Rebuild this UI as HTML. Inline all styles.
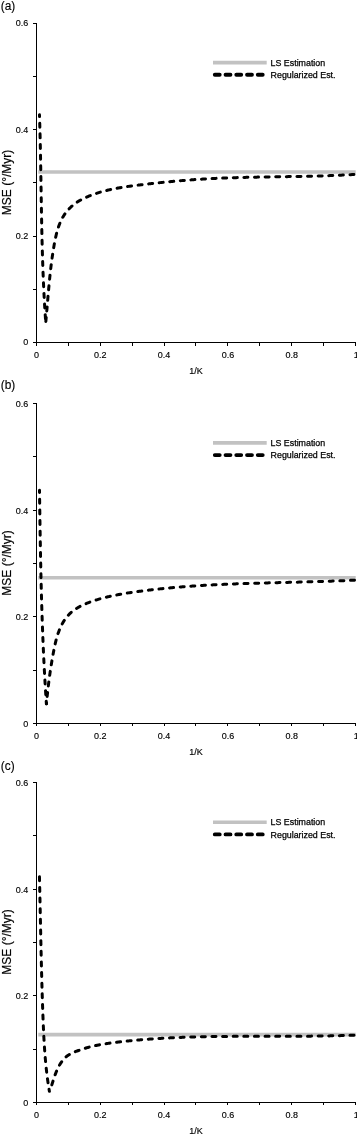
<!DOCTYPE html>
<html><head><meta charset="utf-8"><title>MSE vs 1/K</title>
<style>
html,body{margin:0;padding:0;background:#fff;}
body{width:357px;height:1134px;overflow:hidden;}
svg{display:block;}
text{font-family:'Liberation Sans', Arial, Helvetica, sans-serif;fill:#000;}
.tk{font-size:9px;stroke:#000;stroke-width:0.15px;}
.tn{font-size:9.8px;stroke:#000;stroke-width:0.15px;}
.lg{font-size:8.85px;stroke:#000;stroke-width:0.25px;}
.yt{font-size:12px;stroke:#000;stroke-width:0.2px;}
.pl{font-size:13.5px;stroke:#000;stroke-width:0.15px;}
</style></head>
<body>
<svg width="357" height="1134" viewBox="0 0 357 1134">
<rect width="357" height="1134" fill="#fff"/>
<path d="M36.5,23 V342.5 M36.0,342.5 H356" stroke="#000" stroke-width="1" fill="none" shape-rendering="crispEdges"/>
<path d="M33,342.5 H36 M33,289.5 H36 M33,236.5 H36 M33,182.5 H36 M33,129.5 H36 M33,76.5 H36 M33,23.5 H36 M36.5,343 V346 M68.5,343 V346 M100.5,343 V346 M132.5,343 V346 M164.5,343 V346 M195.5,343 V346 M227.5,343 V346 M259.5,343 V346 M291.5,343 V346 M323.5,343 V346 M355.5,343 V346" stroke="#000" stroke-width="1" fill="none" shape-rendering="crispEdges"/>
<text transform="translate(28.3,345.3) scale(0.92,1)" text-anchor="end" class="tn">0</text>
<text transform="translate(28.3,239.0) scale(0.92,1)" text-anchor="end" class="tn">0.2</text>
<text transform="translate(28.3,132.6) scale(0.92,1)" text-anchor="end" class="tn">0.4</text>
<text transform="translate(28.3,26.3) scale(0.92,1)" text-anchor="end" class="tn">0.6</text>
<text transform="translate(36.5,358.4) scale(0.92,1)" text-anchor="middle" class="tn">0</text>
<text transform="translate(100.3,358.4) scale(0.92,1)" text-anchor="middle" class="tn">0.2</text>
<text transform="translate(164.1,358.4) scale(0.92,1)" text-anchor="middle" class="tn">0.4</text>
<text transform="translate(227.9,358.4) scale(0.92,1)" text-anchor="middle" class="tn">0.6</text>
<text transform="translate(291.7,358.4) scale(0.92,1)" text-anchor="middle" class="tn">0.8</text>
<text transform="translate(356.2,358.4) scale(0.92,1)" text-anchor="middle" class="tn">1</text>
<text x="196" y="373.5" text-anchor="middle" class="tk">1/K</text>
<text transform="translate(11.2,182.4) rotate(-90)" text-anchor="middle" class="yt">MSE (°/Myr)</text>
<text transform="translate(0.8,9.9) scale(0.88,1)" class="pl">(a)</text>
<path d="M213,62.6 H266.7" stroke="#c2c2c2" stroke-width="3.6" fill="none"/>
<path d="M214.8,74.8 H264" stroke="#000" stroke-width="3.9" stroke-linecap="round" stroke-dasharray="4.9 5.85" fill="none"/>
<text x="270.6" y="65.7" class="lg">LS Estimation</text>
<text x="270.6" y="78.0" class="lg">Regularized Est.</text>
<path d="M38.3,172.0 H355.7" stroke="#c2c2c2" stroke-width="3.6" fill="none"/>
<path d="M39.48,114.80 L39.50,115.63 L39.53,116.46 L39.56,117.29 L39.58,118.12 L39.61,118.95 L39.64,119.78 L39.66,120.61 L39.69,121.44 L39.71,122.27 L39.74,123.10 L39.76,123.93 L39.78,124.76 L39.81,125.59 L39.83,126.42 L39.85,127.25 L39.88,128.08 L39.90,128.91 L39.92,129.74 L39.94,130.57 L39.97,131.40 L39.99,132.23 L40.01,133.06 L40.03,133.88 L40.05,134.71 L40.07,135.54 L40.09,136.37 L40.11,137.20 L40.13,138.03 L40.15,138.86 L40.17,139.69 L40.19,140.52 L40.21,141.35 L40.23,142.18 L40.25,143.01 L40.27,143.84 L40.28,144.67 L40.30,145.50 L40.32,146.33 L40.34,147.16 L40.35,147.99 L40.37,148.82 L40.39,149.65 L40.41,150.48 L40.42,151.31 L40.44,152.14 L40.46,152.97 L40.47,153.80 L40.49,154.63 L40.51,155.46 L40.52,156.29 L40.54,157.12 L40.55,157.95 L40.57,158.78 L40.58,159.61 L40.60,160.44 L40.62,161.27 L40.63,162.10 L40.65,162.93 L40.66,163.76 L40.68,164.59 L40.69,165.43 L40.70,166.26 L40.72,167.09 L40.73,167.92 L40.75,168.75 L40.76,169.58 L40.78,170.41 L40.79,171.24 L40.80,172.07 L40.82,172.90 L40.83,173.73 L40.85,174.56 L40.86,175.39 L40.87,176.22 L40.89,177.05 L40.90,177.88 L40.91,178.71 L40.93,179.54 L40.94,180.37 L40.95,181.20 L40.97,182.03 L40.98,182.86 L40.99,183.69 L41.01,184.52 L41.02,185.35 L41.03,186.18 L41.05,187.01 L41.06,187.84 L41.07,188.67 L41.09,189.50 L41.10,190.33 L41.11,191.16 L41.13,191.99 L41.14,192.82 L41.15,193.65 L41.17,194.48 L41.18,195.31 L41.19,196.14 L41.21,196.97 L41.22,197.80 L41.24,198.63 L41.25,199.46 L41.26,200.29 L41.28,201.12 L41.29,201.96 L41.30,202.79 L41.32,203.62 L41.33,204.45 L41.35,205.28 L41.36,206.11 L41.37,206.94 L41.39,207.77 L41.40,208.60 L41.42,209.43 L41.43,210.26 L41.45,211.09 L41.46,211.92 L41.48,212.75 L41.49,213.58 L41.51,214.41 L41.52,215.24 L41.54,216.07 L41.55,216.90 L41.57,217.73 L41.58,218.56 L41.60,219.39 L41.61,220.22 L41.63,221.05 L41.65,221.88 L41.66,222.71 L41.68,223.54 L41.70,224.37 L41.71,225.20 L41.73,226.03 L41.75,226.86 L41.76,227.69 L41.78,228.52 L41.80,229.35 L41.82,230.18 L41.83,231.01 L41.85,231.84 L41.87,232.67 L41.89,233.50 L41.91,234.33 L41.93,235.16 L41.95,235.99 L41.97,236.82 L41.98,237.65 L42.00,238.48 L42.02,239.31 L42.04,240.14 L42.07,240.97 L42.09,241.80 L42.11,242.63 L42.13,243.46 L42.15,244.29 L42.17,245.12 L42.19,245.95 L42.21,246.78 L42.24,247.61 L42.26,248.44 L42.28,249.27 L42.31,250.10 L42.33,250.93 L42.35,251.76 L42.38,252.59 L42.40,253.42 L42.43,254.25 L42.45,255.08 L42.48,255.91 L42.50,256.74 L42.53,257.57 L42.55,258.40 L42.58,259.23 L42.61,260.06 L42.63,260.89 L42.66,261.72 L42.69,262.55 L42.71,263.38 L42.74,264.21 L42.77,265.04 L42.80,265.87 L42.83,266.70 L42.86,267.53 L42.89,268.35 L42.92,269.18 L42.95,270.01 L42.98,270.84 L43.01,271.67 L43.04,272.50 L43.07,273.33 L43.11,274.16 L43.14,274.99 L43.17,275.82 L43.21,276.65 L43.24,277.48 L43.27,278.31 L43.31,279.14 L43.34,279.97 L43.38,280.80 L43.42,281.63 L43.45,282.46 L43.49,283.28 L43.53,284.11 L43.56,284.94 L43.60,285.77 L43.64,286.60 L43.68,287.43 L43.72,288.26 L43.76,289.09 L43.80,289.92 L43.84,290.75 L43.88,291.58 L43.92,292.41 L43.96,293.23 L44.00,294.06 L44.05,294.89 L44.09,295.72 L44.13,296.55 L44.18,297.38 L44.22,298.21 L44.27,299.04 L44.31,299.87 L44.36,300.69 L44.40,301.52 L44.45,302.35 L44.50,303.18 L44.55,304.01 L44.60,304.84 L44.64,305.67 L44.69,306.50 L44.74,307.32 L44.79,308.15 L44.85,308.98 L44.90,309.81 L44.95,310.64 L45.00,311.47 L45.05,312.30 L45.11,313.12 L45.16,313.95 L45.22,314.78 L45.27,315.61 L45.33,316.44 L45.39,317.27 L45.44,318.10 L45.50,318.92 L45.56,319.75 L45.62,320.58 L45.68,321.41" stroke="#000" stroke-width="3" stroke-linecap="round" stroke-linejoin="round" fill="none" stroke-dasharray="4.0 6.640" stroke-dashoffset="2.2"/>
<path d="M45.84,321.47 L45.91,320.64 L45.99,319.81 L46.07,318.98 L46.14,318.15 L46.22,317.32 L46.29,316.50 L46.37,315.67 L46.44,314.84 L46.51,314.02 L46.59,313.19 L46.66,312.37 L46.73,311.55 L46.80,310.72 L46.87,309.90 L46.94,309.08 L47.01,308.26 L47.08,307.44 L47.15,306.62 L47.22,305.80 L47.29,304.98 L47.36,304.16 L47.43,303.35 L47.50,302.53 L47.57,301.71 L47.64,300.90 L47.71,300.08 L47.78,299.27 L47.84,298.45 L47.91,297.64 L47.98,296.82 L48.05,296.01 L48.12,295.20 L48.19,294.38 L48.26,293.57 L48.33,292.76 L48.40,291.95 L48.48,291.13 L48.55,290.32 L48.62,289.51 L48.69,288.70 L48.76,287.89 L48.84,287.08 L48.91,286.27 L48.99,285.46 L49.06,284.65 L49.14,283.84 L49.21,283.03 L49.29,282.22 L49.37,281.41 L49.45,280.60 L49.53,279.79 L49.61,278.98 L49.69,278.17 L49.77,277.36 L49.86,276.55 L49.94,275.74 L50.03,274.93 L50.11,274.12 L50.20,273.31 L50.29,272.50 L50.38,271.69 L50.47,270.88 L50.56,270.07 L50.65,269.26 L50.75,268.45 L50.84,267.64 L50.94,266.83 L51.04,266.02 L51.14,265.21 L51.24,264.40 L51.34,263.59 L51.45,262.78 L51.55,261.96 L51.66,261.15 L51.77,260.34 L51.88,259.52 L51.99,258.71 L52.10,257.90 L52.22,257.08 L52.34,256.27 L52.45,255.45 L52.58,254.64 L52.70,253.82 L52.82,253.01 L52.95,252.19 L53.08,251.37 L53.21,250.55 L53.34,249.73 L53.47,248.92 L53.61,248.10 L53.75,247.28 L53.89,246.46 L54.03,245.63 L54.18,244.81 L54.32,243.99 L54.47,243.17 L54.63,242.34 L54.78,241.52 L54.94,240.70 L55.10,239.88 L55.27,239.06 L55.44,238.24 L55.62,237.42 L55.80,236.60 L55.99,235.79 L56.18,234.98 L56.37,234.17 L56.58,233.36 L56.79,232.55 L57.00,231.75 L57.23,230.95 L57.46,230.16 L57.69,229.36 L57.94,228.57 L58.19,227.79 L58.45,227.01 L58.72,226.24 L59.00,225.46 L59.29,224.70 L59.59,223.94 L59.89,223.18 L60.21,222.43 L60.54,221.69 L60.88,220.95 L61.22,220.22 L61.58,219.50 L61.95,218.78 L62.33,218.07 L62.73,217.37 L63.13,216.67 L63.55,215.98 L63.98,215.30 L64.43,214.63 L64.89,213.97 L65.35,213.31 L65.84,212.67 L66.33,212.03 L66.84,211.40 L67.35,210.78 L67.88,210.17 L68.42,209.57 L68.97,208.97 L69.53,208.39 L70.11,207.82 L70.69,207.25 L71.28,206.70 L71.89,206.16 L72.50,205.62 L73.12,205.10 L73.75,204.59 L74.39,204.09 L75.04,203.60 L75.70,203.11 L76.37,202.65 L77.05,202.19 L77.73,201.74 L78.42,201.30 L79.12,200.88 L79.83,200.47 L80.54,200.06 L81.26,199.67 L81.99,199.29 L82.72,198.91 L83.46,198.55 L84.20,198.19 L84.94,197.84 L85.69,197.50 L86.44,197.17 L87.20,196.84 L87.95,196.52 L88.71,196.21 L89.47,195.90 L90.24,195.60 L91.00,195.30 L91.77,195.01 L92.53,194.72 L93.30,194.44 L94.08,194.17 L94.85,193.90 L95.62,193.64 L96.40,193.38 L97.18,193.13 L97.96,192.88 L98.74,192.63 L99.52,192.40 L100.31,192.16 L101.09,191.93 L101.88,191.71 L102.67,191.49 L103.46,191.28 L104.25,191.07 L105.05,190.86 L105.84,190.66 L106.63,190.46 L107.43,190.27 L108.23,190.08 L109.03,189.89 L109.83,189.71 L110.63,189.53 L111.43,189.36 L112.23,189.19 L113.04,189.02 L113.84,188.85 L114.65,188.69 L115.46,188.54 L116.26,188.38 L117.07,188.23 L117.88,188.08 L118.69,187.94 L119.50,187.79 L120.31,187.65 L121.13,187.52 L121.94,187.38 L122.75,187.25 L123.57,187.12 L124.38,186.99 L125.19,186.87 L126.01,186.75 L126.83,186.63 L127.64,186.51 L128.46,186.39 L129.28,186.28 L130.09,186.16 L130.91,186.05 L131.73,185.94 L132.55,185.83 L133.36,185.73 L134.18,185.62 L135.00,185.52 L135.82,185.41 L136.64,185.31 L137.46,185.21 L138.28,185.11 L139.10,185.01 L139.91,184.91 L140.73,184.81 L141.55,184.72 L142.37,184.62 L143.19,184.52 L144.01,184.43 L144.82,184.33 L145.64,184.24 L146.46,184.14 L147.28,184.05 L148.09,183.95 L148.91,183.86 L149.73,183.77 L150.54,183.68 L151.36,183.59 L152.18,183.50 L152.99,183.41 L153.81,183.32 L154.63,183.23 L155.44,183.14 L156.26,183.05 L157.07,182.96 L157.89,182.88 L158.70,182.79 L159.52,182.70 L160.34,182.62 L161.15,182.54 L161.97,182.45 L162.78,182.37 L163.60,182.29 L164.41,182.20 L165.23,182.12 L166.04,182.04 L166.86,181.96 L167.67,181.88 L168.49,181.80 L169.30,181.72 L170.12,181.65 L170.93,181.57 L171.75,181.49 L172.56,181.42 L173.37,181.34 L174.19,181.27 L175.00,181.19 L175.82,181.12 L176.63,181.05 L177.45,180.97 L178.26,180.90 L179.08,180.83 L179.89,180.76 L180.71,180.69 L181.52,180.62 L182.33,180.55 L183.15,180.49 L183.96,180.42 L184.78,180.35 L185.59,180.29 L186.41,180.22 L187.22,180.16 L188.04,180.10 L188.85,180.04 L189.67,179.97 L190.48,179.91 L191.30,179.85 L192.11,179.79 L192.93,179.73 L193.74,179.68 L194.56,179.62 L195.37,179.56 L196.19,179.51 L197.00,179.45 L197.82,179.40 L198.63,179.34 L199.45,179.29 L200.27,179.24 L201.08,179.19 L201.90,179.14 L202.71,179.09 L203.53,179.04 L204.35,178.99 L205.16,178.94 L205.98,178.89 L206.80,178.85 L207.61,178.80 L208.43,178.76 L209.25,178.72 L210.06,178.67 L210.88,178.63 L211.70,178.59 L212.52,178.55 L213.33,178.51 L214.15,178.47 L214.97,178.43 L215.79,178.39 L216.60,178.35 L217.42,178.32 L218.24,178.28 L219.06,178.25 L219.88,178.21 L220.70,178.18 L221.51,178.14 L222.33,178.11 L223.15,178.08 L223.97,178.04 L224.79,178.01 L225.61,177.98 L226.43,177.95 L227.25,177.92 L228.06,177.89 L228.88,177.86 L229.70,177.84 L230.52,177.81 L231.34,177.78 L232.16,177.75 L232.98,177.73 L233.80,177.70 L234.62,177.68 L235.44,177.65 L236.26,177.63 L237.08,177.60 L237.90,177.58 L238.72,177.56 L239.54,177.54 L240.36,177.51 L241.18,177.49 L242.00,177.47 L242.82,177.45 L243.64,177.43 L244.46,177.41 L245.28,177.39 L246.10,177.37 L246.92,177.35 L247.74,177.33 L248.56,177.31 L249.38,177.29 L250.20,177.27 L251.02,177.26 L251.85,177.24 L252.67,177.22 L253.49,177.21 L254.31,177.19 L255.13,177.17 L255.95,177.16 L256.77,177.14 L257.59,177.12 L258.41,177.11 L259.23,177.09 L260.06,177.08 L260.88,177.06 L261.70,177.05 L262.52,177.03 L263.34,177.02 L264.16,177.01 L264.98,176.99 L265.80,176.98 L266.63,176.96 L267.45,176.95 L268.27,176.94 L269.09,176.92 L269.91,176.91 L270.73,176.90 L271.55,176.88 L272.37,176.87 L273.20,176.86 L274.02,176.85 L274.84,176.83 L275.66,176.82 L276.48,176.81 L277.30,176.79 L278.12,176.78 L278.95,176.77 L279.77,176.76 L280.59,176.74 L281.41,176.73 L282.23,176.72 L283.05,176.70 L283.87,176.69 L284.70,176.68 L285.52,176.66 L286.34,176.65 L287.16,176.64 L287.98,176.62 L288.80,176.61 L289.62,176.60 L290.44,176.58 L291.27,176.57 L292.09,176.56 L292.91,176.54 L293.73,176.53 L294.55,176.51 L295.37,176.50 L296.19,176.48 L297.01,176.47 L297.83,176.45 L298.66,176.44 L299.48,176.42 L300.30,176.41 L301.12,176.39 L301.94,176.37 L302.76,176.36 L303.58,176.34 L304.40,176.32 L305.22,176.31 L306.04,176.29 L306.86,176.27 L307.68,176.25 L308.50,176.24 L309.32,176.22 L310.15,176.20 L310.97,176.18 L311.79,176.16 L312.61,176.14 L313.43,176.12 L314.25,176.10 L315.07,176.08 L315.89,176.05 L316.71,176.03 L317.53,176.01 L318.35,175.99 L319.17,175.96 L319.99,175.94 L320.81,175.92 L321.62,175.89 L322.44,175.87 L323.26,175.84 L324.08,175.82 L324.90,175.79 L325.72,175.76 L326.54,175.74 L327.36,175.71 L328.18,175.68 L329.00,175.65 L329.82,175.62 L330.64,175.59 L331.45,175.56 L332.27,175.53 L333.09,175.50 L333.91,175.47 L334.73,175.43 L335.55,175.40 L336.36,175.37 L337.18,175.33 L338.00,175.30 L338.82,175.26 L339.64,175.22 L340.45,175.19 L341.27,175.15 L342.09,175.11 L342.91,175.07 L343.72,175.03 L344.54,174.99 L345.36,174.95 L346.17,174.91 L346.99,174.87 L347.81,174.82 L348.62,174.78 L349.44,174.73 L350.26,174.69 L351.07,174.64 L351.89,174.60 L352.71,174.55 L353.52,174.50 L354.34,174.45 L355.15,174.40 L355.97,174.35" stroke="#000" stroke-width="3" stroke-linecap="round" stroke-linejoin="round" fill="none" stroke-dasharray="4.0 6.611" stroke-dashoffset="0.0"/>
<path d="M36.5,403 V723.5 M36.0,723.5 H356" stroke="#000" stroke-width="1" fill="none" shape-rendering="crispEdges"/>
<path d="M33,723.5 H36 M33,670.5 H36 M33,616.5 H36 M33,563.5 H36 M33,510.5 H36 M33,456.5 H36 M33,403.5 H36 M36.5,724 V726 M68.5,724 V726 M100.5,724 V726 M132.5,724 V726 M164.5,724 V726 M195.5,724 V726 M227.5,724 V726 M259.5,724 V726 M291.5,724 V726 M323.5,724 V726 M355.5,724 V726" stroke="#000" stroke-width="1" fill="none" shape-rendering="crispEdges"/>
<text transform="translate(28.3,727.0) scale(0.92,1)" text-anchor="end" class="tn">0</text>
<text transform="translate(28.3,620.3) scale(0.92,1)" text-anchor="end" class="tn">0.2</text>
<text transform="translate(28.3,513.7) scale(0.92,1)" text-anchor="end" class="tn">0.4</text>
<text transform="translate(28.3,407.0) scale(0.92,1)" text-anchor="end" class="tn">0.6</text>
<text transform="translate(36.5,739.4) scale(0.92,1)" text-anchor="middle" class="tn">0</text>
<text transform="translate(100.3,739.4) scale(0.92,1)" text-anchor="middle" class="tn">0.2</text>
<text transform="translate(164.1,739.4) scale(0.92,1)" text-anchor="middle" class="tn">0.4</text>
<text transform="translate(227.9,739.4) scale(0.92,1)" text-anchor="middle" class="tn">0.6</text>
<text transform="translate(291.7,739.4) scale(0.92,1)" text-anchor="middle" class="tn">0.8</text>
<text transform="translate(356.2,739.4) scale(0.92,1)" text-anchor="middle" class="tn">1</text>
<text x="196" y="754.5" text-anchor="middle" class="tk">1/K</text>
<text transform="translate(11.2,562.9) rotate(-90)" text-anchor="middle" class="yt">MSE (°/Myr)</text>
<text transform="translate(0.8,389.4) scale(0.88,1)" class="pl">(b)</text>
<path d="M213,442.9 H266.7" stroke="#c2c2c2" stroke-width="3.6" fill="none"/>
<path d="M214.8,455.1 H264" stroke="#000" stroke-width="3.9" stroke-linecap="round" stroke-dasharray="4.9 5.85" fill="none"/>
<text x="270.6" y="446.0" class="lg">LS Estimation</text>
<text x="270.6" y="458.3" class="lg">Regularized Est.</text>
<path d="M38.3,577.8 H355.7" stroke="#c2c2c2" stroke-width="3.6" fill="none"/>
<path d="M39.49,490.30 L39.50,491.16 L39.51,492.02 L39.52,492.87 L39.54,493.73 L39.55,494.59 L39.56,495.45 L39.57,496.31 L39.58,497.16 L39.60,498.02 L39.61,498.88 L39.62,499.74 L39.64,500.59 L39.65,501.45 L39.66,502.31 L39.67,503.17 L39.69,504.03 L39.70,504.88 L39.71,505.74 L39.72,506.60 L39.74,507.46 L39.75,508.32 L39.76,509.17 L39.77,510.03 L39.79,510.89 L39.80,511.75 L39.81,512.60 L39.83,513.46 L39.84,514.32 L39.85,515.18 L39.86,516.04 L39.88,516.89 L39.89,517.75 L39.90,518.61 L39.92,519.47 L39.93,520.33 L39.94,521.18 L39.96,522.04 L39.97,522.90 L39.98,523.76 L40.00,524.62 L40.01,525.47 L40.02,526.33 L40.04,527.19 L40.05,528.05 L40.06,528.91 L40.08,529.76 L40.09,530.62 L40.11,531.48 L40.12,532.34 L40.13,533.19 L40.15,534.05 L40.16,534.91 L40.18,535.77 L40.19,536.63 L40.21,537.48 L40.22,538.34 L40.24,539.20 L40.25,540.06 L40.27,540.92 L40.28,541.77 L40.30,542.63 L40.31,543.49 L40.33,544.35 L40.34,545.21 L40.36,546.06 L40.37,546.92 L40.39,547.78 L40.40,548.64 L40.42,549.50 L40.43,550.35 L40.45,551.21 L40.47,552.07 L40.48,552.93 L40.50,553.79 L40.51,554.64 L40.53,555.50 L40.55,556.36 L40.56,557.22 L40.58,558.08 L40.60,558.93 L40.62,559.79 L40.63,560.65 L40.65,561.51 L40.67,562.37 L40.69,563.22 L40.70,564.08 L40.72,564.94 L40.74,565.80 L40.76,566.65 L40.77,567.51 L40.79,568.37 L40.81,569.23 L40.83,570.09 L40.85,570.94 L40.87,571.80 L40.89,572.66 L40.91,573.52 L40.93,574.38 L40.94,575.23 L40.96,576.09 L40.98,576.95 L41.00,577.81 L41.02,578.67 L41.04,579.52 L41.06,580.38 L41.08,581.24 L41.11,582.10 L41.13,582.95 L41.15,583.81 L41.17,584.67 L41.19,585.53 L41.21,586.39 L41.23,587.24 L41.25,588.10 L41.28,588.96 L41.30,589.82 L41.32,590.67 L41.34,591.53 L41.37,592.39 L41.39,593.25 L41.41,594.11 L41.44,594.96 L41.46,595.82 L41.48,596.68 L41.51,597.54 L41.53,598.39 L41.55,599.25 L41.58,600.11 L41.60,600.97 L41.63,601.83 L41.65,602.68 L41.68,603.54 L41.70,604.40 L41.73,605.26 L41.76,606.11 L41.78,606.97 L41.81,607.83 L41.83,608.69 L41.86,609.54 L41.89,610.40 L41.91,611.26 L41.94,612.12 L41.97,612.97 L42.00,613.83 L42.02,614.69 L42.05,615.55 L42.08,616.40 L42.11,617.26 L42.14,618.12 L42.17,618.98 L42.20,619.83 L42.22,620.69 L42.25,621.55 L42.28,622.41 L42.31,623.26 L42.34,624.12 L42.38,624.98 L42.41,625.84 L42.44,626.69 L42.47,627.55 L42.50,628.41 L42.53,629.27 L42.56,630.12 L42.60,630.98 L42.63,631.84 L42.66,632.70 L42.69,633.55 L42.73,634.41 L42.76,635.27 L42.79,636.13 L42.83,636.98 L42.86,637.84 L42.90,638.70 L42.93,639.55 L42.97,640.41 L43.00,641.27 L43.04,642.13 L43.07,642.98 L43.11,643.84 L43.15,644.70 L43.18,645.56 L43.22,646.41 L43.26,647.27 L43.29,648.13 L43.33,648.98 L43.37,649.84 L43.41,650.70 L43.45,651.56 L43.49,652.41 L43.53,653.27 L43.57,654.13 L43.60,654.98 L43.64,655.84 L43.69,656.70 L43.73,657.55 L43.77,658.41 L43.81,659.27 L43.85,660.13 L43.89,660.98 L43.93,661.84 L43.98,662.70 L44.02,663.55 L44.06,664.41 L44.11,665.27 L44.15,666.12 L44.19,666.98 L44.24,667.84 L44.28,668.69 L44.33,669.55 L44.37,670.41 L44.42,671.26 L44.46,672.12 L44.51,672.98 L44.56,673.83 L44.60,674.69 L44.65,675.55 L44.70,676.40 L44.75,677.26 L44.79,678.12 L44.84,678.97 L44.89,679.83 L44.94,680.69 L44.99,681.54 L45.04,682.40 L45.09,683.26 L45.14,684.11 L45.19,684.97 L45.24,685.83 L45.29,686.68 L45.35,687.54 L45.40,688.39 L45.45,689.25 L45.50,690.11 L45.56,690.96 L45.61,691.82 L45.66,692.68 L45.72,693.53 L45.77,694.39 L45.83,695.25 L45.88,696.10 L45.94,696.96 L46.00,697.81 L46.05,698.67 L46.11,699.53 L46.17,700.38 L46.22,701.24 L46.28,702.09 L46.34,702.95 L46.40,703.81" stroke="#000" stroke-width="3" stroke-linecap="round" stroke-linejoin="round" fill="none" stroke-dasharray="4.0 6.640" stroke-dashoffset="1.7"/>
<path d="M46.44,703.81 L46.51,703.04 L46.59,702.26 L46.66,701.48 L46.73,700.71 L46.81,699.93 L46.88,699.16 L46.96,698.38 L47.04,697.61 L47.12,696.84 L47.19,696.06 L47.27,695.29 L47.36,694.52 L47.44,693.75 L47.52,692.98 L47.60,692.21 L47.69,691.44 L47.77,690.68 L47.86,689.91 L47.94,689.14 L48.03,688.37 L48.12,687.61 L48.21,686.84 L48.30,686.08 L48.39,685.31 L48.49,684.55 L48.58,683.78 L48.67,683.02 L48.77,682.25 L48.87,681.49 L48.96,680.73 L49.06,679.96 L49.16,679.20 L49.26,678.44 L49.37,677.68 L49.47,676.91 L49.57,676.15 L49.68,675.39 L49.79,674.63 L49.89,673.87 L50.00,673.11 L50.11,672.34 L50.22,671.58 L50.33,670.82 L50.45,670.06 L50.56,669.30 L50.68,668.54 L50.80,667.78 L50.91,667.02 L51.03,666.26 L51.15,665.50 L51.28,664.74 L51.40,663.97 L51.52,663.21 L51.65,662.45 L51.78,661.69 L51.91,660.93 L52.04,660.17 L52.17,659.41 L52.30,658.64 L52.43,657.88 L52.57,657.12 L52.70,656.36 L52.84,655.60 L52.98,654.83 L53.12,654.07 L53.26,653.31 L53.41,652.54 L53.55,651.78 L53.70,651.01 L53.85,650.25 L54.00,649.48 L54.15,648.72 L54.30,647.95 L54.46,647.19 L54.62,646.43 L54.78,645.66 L54.95,644.90 L55.12,644.14 L55.29,643.38 L55.47,642.62 L55.65,641.86 L55.84,641.10 L56.03,640.34 L56.23,639.59 L56.43,638.83 L56.64,638.08 L56.85,637.33 L57.07,636.58 L57.30,635.84 L57.53,635.10 L57.77,634.36 L58.02,633.62 L58.27,632.88 L58.54,632.15 L58.81,631.42 L59.08,630.69 L59.37,629.97 L59.66,629.25 L59.97,628.53 L60.28,627.82 L60.60,627.11 L60.93,626.41 L61.27,625.71 L61.62,625.02 L61.97,624.33 L62.34,623.65 L62.72,622.98 L63.10,622.31 L63.50,621.66 L63.90,621.00 L64.32,620.36 L64.74,619.72 L65.18,619.10 L65.62,618.48 L66.08,617.87 L66.54,617.27 L67.02,616.68 L67.51,616.10 L68.01,615.53 L68.52,614.97 L69.04,614.42 L69.57,613.88 L70.11,613.36 L70.67,612.84 L71.23,612.34 L71.81,611.85 L72.40,611.37 L72.99,610.90 L73.60,610.45 L74.22,610.00 L74.84,609.56 L75.47,609.13 L76.11,608.72 L76.76,608.31 L77.42,607.91 L78.08,607.52 L78.75,607.14 L79.43,606.77 L80.11,606.40 L80.80,606.05 L81.49,605.70 L82.19,605.36 L82.89,605.03 L83.60,604.70 L84.31,604.38 L85.02,604.07 L85.74,603.76 L86.46,603.46 L87.19,603.17 L87.91,602.88 L88.64,602.60 L89.36,602.32 L90.09,602.04 L90.82,601.78 L91.56,601.51 L92.29,601.26 L93.03,601.00 L93.76,600.76 L94.50,600.51 L95.24,600.27 L95.98,600.04 L96.72,599.81 L97.46,599.58 L98.21,599.36 L98.95,599.14 L99.70,598.93 L100.44,598.72 L101.19,598.51 L101.94,598.31 L102.69,598.11 L103.44,597.92 L104.19,597.72 L104.94,597.53 L105.69,597.35 L106.45,597.16 L107.20,596.98 L107.95,596.81 L108.71,596.63 L109.46,596.46 L110.22,596.29 L110.97,596.12 L111.73,595.96 L112.49,595.80 L113.25,595.64 L114.00,595.48 L114.76,595.33 L115.52,595.17 L116.28,595.02 L117.04,594.87 L117.80,594.73 L118.56,594.59 L119.32,594.44 L120.08,594.30 L120.84,594.17 L121.60,594.03 L122.36,593.90 L123.12,593.76 L123.89,593.63 L124.65,593.51 L125.41,593.38 L126.17,593.25 L126.94,593.13 L127.70,593.01 L128.47,592.89 L129.23,592.77 L129.99,592.65 L130.76,592.54 L131.52,592.42 L132.29,592.31 L133.05,592.20 L133.82,592.09 L134.58,591.98 L135.35,591.87 L136.11,591.76 L136.88,591.66 L137.65,591.55 L138.41,591.45 L139.18,591.34 L139.94,591.24 L140.71,591.14 L141.48,591.04 L142.24,590.94 L143.01,590.84 L143.78,590.74 L144.54,590.65 L145.31,590.55 L146.08,590.46 L146.84,590.36 L147.61,590.27 L148.38,590.17 L149.14,590.08 L149.91,589.99 L150.68,589.90 L151.45,589.81 L152.21,589.72 L152.98,589.63 L153.75,589.55 L154.52,589.46 L155.28,589.38 L156.05,589.29 L156.82,589.21 L157.59,589.12 L158.35,589.04 L159.12,588.96 L159.89,588.88 L160.66,588.80 L161.43,588.72 L162.20,588.64 L162.96,588.56 L163.73,588.49 L164.50,588.41 L165.27,588.33 L166.04,588.26 L166.81,588.18 L167.58,588.11 L168.35,588.04 L169.11,587.97 L169.88,587.89 L170.65,587.82 L171.42,587.75 L172.19,587.68 L172.96,587.62 L173.73,587.55 L174.50,587.48 L175.27,587.41 L176.04,587.35 L176.81,587.28 L177.58,587.22 L178.35,587.15 L179.12,587.09 L179.89,587.03 L180.66,586.97 L181.43,586.90 L182.20,586.84 L182.97,586.78 L183.74,586.72 L184.51,586.66 L185.28,586.61 L186.05,586.55 L186.82,586.49 L187.59,586.43 L188.36,586.38 L189.13,586.32 L189.90,586.27 L190.67,586.21 L191.44,586.16 L192.21,586.11 L192.98,586.05 L193.75,586.00 L194.53,585.95 L195.30,585.90 L196.07,585.85 L196.84,585.80 L197.61,585.75 L198.38,585.70 L199.15,585.65 L199.92,585.61 L200.69,585.56 L201.47,585.51 L202.24,585.47 L203.01,585.42 L203.78,585.37 L204.55,585.33 L205.32,585.29 L206.09,585.24 L206.87,585.20 L207.64,585.16 L208.41,585.11 L209.18,585.07 L209.95,585.03 L210.72,584.99 L211.50,584.95 L212.27,584.91 L213.04,584.87 L213.81,584.83 L214.58,584.79 L215.36,584.75 L216.13,584.71 L216.90,584.68 L217.67,584.64 L218.45,584.60 L219.22,584.57 L219.99,584.53 L220.76,584.50 L221.53,584.46 L222.31,584.43 L223.08,584.39 L223.85,584.36 L224.62,584.32 L225.40,584.29 L226.17,584.26 L226.94,584.22 L227.71,584.19 L228.49,584.16 L229.26,584.13 L230.03,584.10 L230.80,584.07 L231.58,584.04 L232.35,584.01 L233.12,583.98 L233.90,583.95 L234.67,583.92 L235.44,583.89 L236.21,583.86 L236.99,583.83 L237.76,583.80 L238.53,583.78 L239.31,583.75 L240.08,583.72 L240.85,583.69 L241.63,583.67 L242.40,583.64 L243.17,583.61 L243.94,583.59 L244.72,583.56 L245.49,583.54 L246.26,583.51 L247.04,583.49 L247.81,583.46 L248.58,583.44 L249.36,583.41 L250.13,583.39 L250.90,583.37 L251.68,583.34 L252.45,583.32 L253.22,583.30 L254.00,583.27 L254.77,583.25 L255.54,583.23 L256.32,583.21 L257.09,583.18 L257.86,583.16 L258.64,583.14 L259.41,583.12 L260.18,583.10 L260.96,583.07 L261.73,583.05 L262.50,583.03 L263.28,583.01 L264.05,582.99 L264.82,582.97 L265.60,582.95 L266.37,582.93 L267.14,582.91 L267.92,582.89 L268.69,582.87 L269.46,582.85 L270.24,582.83 L271.01,582.81 L271.78,582.79 L272.56,582.77 L273.33,582.75 L274.10,582.73 L274.88,582.71 L275.65,582.69 L276.42,582.67 L277.20,582.65 L277.97,582.63 L278.74,582.61 L279.52,582.59 L280.29,582.57 L281.06,582.55 L281.84,582.53 L282.61,582.51 L283.38,582.49 L284.16,582.47 L284.93,582.46 L285.70,582.44 L286.48,582.42 L287.25,582.40 L288.02,582.38 L288.80,582.36 L289.57,582.34 L290.34,582.32 L291.12,582.30 L291.89,582.28 L292.66,582.26 L293.44,582.24 L294.21,582.22 L294.98,582.20 L295.76,582.18 L296.53,582.16 L297.30,582.15 L298.08,582.13 L298.85,582.11 L299.62,582.09 L300.39,582.07 L301.17,582.05 L301.94,582.03 L302.71,582.00 L303.49,581.98 L304.26,581.96 L305.03,581.94 L305.81,581.92 L306.58,581.90 L307.35,581.88 L308.12,581.86 L308.90,581.84 L309.67,581.82 L310.44,581.79 L311.22,581.77 L311.99,581.75 L312.76,581.73 L313.53,581.71 L314.31,581.68 L315.08,581.66 L315.85,581.64 L316.62,581.62 L317.40,581.59 L318.17,581.57 L318.94,581.55 L319.71,581.52 L320.49,581.50 L321.26,581.47 L322.03,581.45 L322.80,581.42 L323.58,581.40 L324.35,581.37 L325.12,581.35 L325.89,581.32 L326.67,581.30 L327.44,581.27 L328.21,581.25 L328.98,581.22 L329.75,581.19 L330.53,581.17 L331.30,581.14 L332.07,581.11 L332.84,581.08 L333.61,581.05 L334.39,581.03 L335.16,581.00 L335.93,580.97 L336.70,580.94 L337.47,580.91 L338.24,580.88 L339.02,580.85 L339.79,580.82 L340.56,580.79 L341.33,580.75 L342.10,580.72 L342.87,580.69 L343.64,580.66 L344.42,580.63 L345.19,580.59 L345.96,580.56 L346.73,580.53 L347.50,580.49 L348.27,580.46 L349.04,580.42 L349.81,580.39 L350.58,580.35 L351.35,580.31 L352.13,580.28 L352.90,580.24 L353.67,580.20 L354.44,580.17 L355.21,580.13 L355.98,580.09" stroke="#000" stroke-width="3" stroke-linecap="round" stroke-linejoin="round" fill="none" stroke-dasharray="4.0 6.654" stroke-dashoffset="3.3"/>
<path d="M36.5,782 V1102.5 M36.0,1102.5 H356" stroke="#000" stroke-width="1" fill="none" shape-rendering="crispEdges"/>
<path d="M33,1102.5 H36 M33,1049.5 H36 M33,995.5 H36 M33,942.5 H36 M33,889.5 H36 M33,835.5 H36 M33,782.5 H36 M36.5,1103 V1105 M68.5,1103 V1105 M100.5,1103 V1105 M132.5,1103 V1105 M164.5,1103 V1105 M195.5,1103 V1105 M227.5,1103 V1105 M259.5,1103 V1105 M291.5,1103 V1105 M323.5,1103 V1105 M355.5,1103 V1105" stroke="#000" stroke-width="1" fill="none" shape-rendering="crispEdges"/>
<text transform="translate(28.3,1106.0) scale(0.92,1)" text-anchor="end" class="tn">0</text>
<text transform="translate(28.3,999.3) scale(0.92,1)" text-anchor="end" class="tn">0.2</text>
<text transform="translate(28.3,892.7) scale(0.92,1)" text-anchor="end" class="tn">0.4</text>
<text transform="translate(28.3,786.0) scale(0.92,1)" text-anchor="end" class="tn">0.6</text>
<text transform="translate(36.5,1118.4) scale(0.92,1)" text-anchor="middle" class="tn">0</text>
<text transform="translate(100.3,1118.4) scale(0.92,1)" text-anchor="middle" class="tn">0.2</text>
<text transform="translate(164.1,1118.4) scale(0.92,1)" text-anchor="middle" class="tn">0.4</text>
<text transform="translate(227.9,1118.4) scale(0.92,1)" text-anchor="middle" class="tn">0.6</text>
<text transform="translate(291.7,1118.4) scale(0.92,1)" text-anchor="middle" class="tn">0.8</text>
<text transform="translate(356.2,1118.4) scale(0.92,1)" text-anchor="middle" class="tn">1</text>
<text x="196" y="1133.5" text-anchor="middle" class="tk">1/K</text>
<text transform="translate(11.2,941.9) rotate(-90)" text-anchor="middle" class="yt">MSE (°/Myr)</text>
<text transform="translate(0.8,770.0) scale(0.88,1)" class="pl">(c)</text>
<path d="M213,822.2 H266.7" stroke="#c2c2c2" stroke-width="3.6" fill="none"/>
<path d="M214.8,834.4 H264" stroke="#000" stroke-width="3.9" stroke-linecap="round" stroke-dasharray="4.9 5.85" fill="none"/>
<text x="270.6" y="825.3" class="lg">LS Estimation</text>
<text x="270.6" y="837.6" class="lg">Regularized Est.</text>
<path d="M38.3,1034.6 H355.7" stroke="#c2c2c2" stroke-width="3.6" fill="none"/>
<path d="M39.45,876.81 L39.47,877.67 L39.49,878.53 L39.51,879.39 L39.53,880.26 L39.55,881.12 L39.57,881.98 L39.59,882.84 L39.61,883.71 L39.63,884.57 L39.65,885.43 L39.67,886.29 L39.69,887.15 L39.71,888.02 L39.73,888.88 L39.75,889.74 L39.77,890.60 L39.79,891.47 L39.81,892.33 L39.83,893.19 L39.85,894.05 L39.87,894.92 L39.89,895.78 L39.91,896.64 L39.93,897.50 L39.94,898.37 L39.96,899.23 L39.98,900.09 L40.00,900.95 L40.02,901.82 L40.04,902.68 L40.06,903.54 L40.08,904.40 L40.09,905.27 L40.11,906.13 L40.13,906.99 L40.15,907.85 L40.17,908.72 L40.19,909.58 L40.20,910.44 L40.22,911.30 L40.24,912.17 L40.26,913.03 L40.28,913.89 L40.29,914.76 L40.31,915.62 L40.33,916.48 L40.35,917.34 L40.37,918.21 L40.39,919.07 L40.40,919.93 L40.42,920.79 L40.44,921.66 L40.46,922.52 L40.48,923.38 L40.49,924.25 L40.51,925.11 L40.53,925.97 L40.55,926.83 L40.57,927.70 L40.58,928.56 L40.60,929.42 L40.62,930.28 L40.64,931.15 L40.66,932.01 L40.68,932.87 L40.69,933.74 L40.71,934.60 L40.73,935.46 L40.75,936.32 L40.77,937.19 L40.79,938.05 L40.80,938.91 L40.82,939.78 L40.84,940.64 L40.86,941.50 L40.88,942.36 L40.90,943.23 L40.92,944.09 L40.94,944.95 L40.95,945.82 L40.97,946.68 L40.99,947.54 L41.01,948.40 L41.03,949.27 L41.05,950.13 L41.07,950.99 L41.09,951.86 L41.11,952.72 L41.13,953.58 L41.15,954.44 L41.17,955.31 L41.19,956.17 L41.21,957.03 L41.23,957.90 L41.25,958.76 L41.27,959.62 L41.29,960.49 L41.31,961.35 L41.33,962.21 L41.35,963.07 L41.37,963.94 L41.39,964.80 L41.42,965.66 L41.44,966.53 L41.46,967.39 L41.48,968.25 L41.50,969.11 L41.52,969.98 L41.55,970.84 L41.57,971.70 L41.59,972.57 L41.61,973.43 L41.63,974.29 L41.66,975.16 L41.68,976.02 L41.70,976.88 L41.73,977.74 L41.75,978.61 L41.77,979.47 L41.80,980.33 L41.82,981.20 L41.84,982.06 L41.87,982.92 L41.89,983.78 L41.92,984.65 L41.94,985.51 L41.97,986.37 L41.99,987.24 L42.02,988.10 L42.04,988.96 L42.07,989.82 L42.09,990.69 L42.12,991.55 L42.14,992.41 L42.17,993.28 L42.20,994.14 L42.22,995.00 L42.25,995.87 L42.28,996.73 L42.31,997.59 L42.33,998.45 L42.36,999.32 L42.39,1000.18 L42.42,1001.04 L42.44,1001.91 L42.47,1002.77 L42.50,1003.63 L42.53,1004.49 L42.56,1005.36 L42.59,1006.22 L42.62,1007.08 L42.65,1007.94 L42.68,1008.81 L42.71,1009.67 L42.74,1010.53 L42.77,1011.40 L42.80,1012.26 L42.83,1013.12 L42.87,1013.98 L42.90,1014.85 L42.93,1015.71 L42.96,1016.57 L43.00,1017.44 L43.03,1018.30 L43.06,1019.16 L43.10,1020.02 L43.13,1020.89 L43.16,1021.75 L43.20,1022.61 L43.23,1023.47 L43.27,1024.34 L43.30,1025.20 L43.34,1026.06 L43.38,1026.92 L43.42,1027.79 L43.45,1028.65 L43.49,1029.51 L43.53,1030.37 L43.57,1031.24 L43.61,1032.10 L43.65,1032.96 L43.69,1033.82 L43.74,1034.68 L43.78,1035.55 L43.82,1036.41 L43.87,1037.27 L43.91,1038.13 L43.96,1038.99 L44.01,1039.86 L44.06,1040.72 L44.11,1041.58 L44.16,1042.44 L44.21,1043.30 L44.26,1044.16 L44.31,1045.02 L44.37,1045.88 L44.42,1046.74 L44.48,1047.60 L44.54,1048.47 L44.59,1049.33 L44.65,1050.19 L44.71,1051.05 L44.78,1051.91 L44.84,1052.77 L44.91,1053.63 L44.97,1054.49 L45.04,1055.34 L45.11,1056.20 L45.18,1057.06 L45.25,1057.92 L45.32,1058.78 L45.40,1059.64 L45.47,1060.50 L45.55,1061.36 L45.63,1062.21 L45.71,1063.07 L45.79,1063.93 L45.87,1064.79 L45.96,1065.65 L46.05,1066.50 L46.13,1067.36 L46.23,1068.22 L46.32,1069.07 L46.41,1069.93 L46.51,1070.79 L46.60,1071.64 L46.70,1072.50 L46.80,1073.35 L46.91,1074.21 L47.01,1075.06 L47.12,1075.92 L47.23,1076.77 L47.34,1077.63 L47.45,1078.48 L47.56,1079.34 L47.68,1080.19 L47.80,1081.04 L47.92,1081.90 L48.04,1082.75 L48.17,1083.60 L48.30,1084.45 L48.43,1085.31 L48.56,1086.16 L48.69,1087.01 L48.83,1087.86 L48.97,1088.71 L49.11,1089.56 L49.25,1090.41 L49.40,1091.26" stroke="#000" stroke-width="3" stroke-linecap="round" stroke-linejoin="round" fill="none" stroke-dasharray="4.0 6.640" stroke-dashoffset="0"/>
<path d="M49.82,1091.19 L50.02,1090.58 L50.23,1089.96 L50.43,1089.33 L50.63,1088.71 L50.83,1088.08 L51.03,1087.45 L51.23,1086.82 L51.43,1086.19 L51.63,1085.56 L51.82,1084.93 L52.02,1084.29 L52.21,1083.65 L52.41,1083.02 L52.61,1082.38 L52.81,1081.74 L53.01,1081.10 L53.21,1080.47 L53.42,1079.83 L53.62,1079.19 L53.83,1078.56 L54.04,1077.92 L54.26,1077.29 L54.47,1076.65 L54.69,1076.02 L54.92,1075.39 L55.15,1074.76 L55.38,1074.14 L55.61,1073.51 L55.86,1072.89 L56.10,1072.27 L56.35,1071.66 L56.61,1071.04 L56.87,1070.43 L57.14,1069.82 L57.41,1069.22 L57.69,1068.62 L57.98,1068.02 L58.28,1067.43 L58.58,1066.84 L58.89,1066.26 L59.20,1065.68 L59.53,1065.10 L59.86,1064.53 L60.20,1063.97 L60.55,1063.41 L60.91,1062.85 L61.28,1062.30 L61.65,1061.76 L62.04,1061.23 L62.44,1060.70 L62.85,1060.18 L63.27,1059.67 L63.70,1059.17 L64.14,1058.69 L64.59,1058.21 L65.06,1057.75 L65.54,1057.30 L66.03,1056.86 L66.53,1056.44 L67.05,1056.04 L67.58,1055.65 L68.13,1055.27 L68.68,1054.92 L69.26,1054.58 L69.84,1054.25 L70.43,1053.94 L71.03,1053.63 L71.63,1053.34 L72.24,1053.06 L72.86,1052.78 L73.47,1052.51 L74.09,1052.24 L74.71,1051.98 L75.33,1051.72 L75.95,1051.47 L76.57,1051.22 L77.20,1050.98 L77.82,1050.74 L78.45,1050.51 L79.07,1050.27 L79.70,1050.05 L80.33,1049.83 L80.96,1049.61 L81.59,1049.39 L82.22,1049.18 L82.85,1048.98 L83.48,1048.77 L84.12,1048.57 L84.75,1048.38 L85.39,1048.19 L86.02,1048.00 L86.66,1047.81 L87.30,1047.63 L87.94,1047.46 L88.58,1047.28 L89.22,1047.11 L89.86,1046.94 L90.50,1046.78 L91.14,1046.62 L91.79,1046.46 L92.43,1046.31 L93.07,1046.15 L93.72,1046.00 L94.37,1045.86 L95.01,1045.72 L95.66,1045.58 L96.31,1045.44 L96.96,1045.30 L97.60,1045.17 L98.25,1045.04 L98.90,1044.91 L99.55,1044.79 L100.21,1044.67 L100.86,1044.55 L101.51,1044.43 L102.16,1044.32 L102.81,1044.20 L103.47,1044.09 L104.12,1043.98 L104.78,1043.88 L105.43,1043.77 L106.09,1043.67 L106.74,1043.57 L107.40,1043.47 L108.05,1043.37 L108.71,1043.28 L109.37,1043.18 L110.02,1043.09 L110.68,1043.00 L111.34,1042.91 L112.00,1042.82 L112.66,1042.73 L113.31,1042.65 L113.97,1042.56 L114.63,1042.48 L115.29,1042.40 L115.95,1042.32 L116.61,1042.24 L117.27,1042.16 L117.93,1042.08 L118.59,1042.01 L119.25,1041.93 L119.91,1041.85 L120.57,1041.78 L121.23,1041.71 L121.89,1041.63 L122.55,1041.56 L123.20,1041.49 L123.86,1041.42 L124.53,1041.35 L125.19,1041.28 L125.85,1041.21 L126.51,1041.14 L127.17,1041.07 L127.83,1041.00 L128.49,1040.94 L129.15,1040.87 L129.81,1040.80 L130.47,1040.74 L131.13,1040.68 L131.79,1040.61 L132.45,1040.55 L133.11,1040.49 L133.77,1040.42 L134.43,1040.36 L135.09,1040.30 L135.75,1040.24 L136.41,1040.18 L137.07,1040.12 L137.73,1040.07 L138.40,1040.01 L139.06,1039.95 L139.72,1039.89 L140.38,1039.84 L141.04,1039.78 L141.70,1039.73 L142.36,1039.67 L143.02,1039.62 L143.68,1039.57 L144.35,1039.52 L145.01,1039.46 L145.67,1039.41 L146.33,1039.36 L146.99,1039.31 L147.65,1039.26 L148.31,1039.21 L148.98,1039.16 L149.64,1039.11 L150.30,1039.07 L150.96,1039.02 L151.62,1038.97 L152.28,1038.93 L152.95,1038.88 L153.61,1038.84 L154.27,1038.79 L154.93,1038.75 L155.59,1038.71 L156.25,1038.66 L156.92,1038.62 L157.58,1038.58 L158.24,1038.54 L158.90,1038.50 L159.56,1038.46 L160.23,1038.42 L160.89,1038.38 L161.55,1038.34 L162.21,1038.30 L162.87,1038.26 L163.54,1038.22 L164.20,1038.19 L164.86,1038.15 L165.52,1038.11 L166.19,1038.08 L166.85,1038.04 L167.51,1038.01 L168.17,1037.97 L168.84,1037.94 L169.50,1037.91 L170.16,1037.87 L170.82,1037.84 L171.49,1037.81 L172.15,1037.78 L172.81,1037.75 L173.47,1037.71 L174.14,1037.68 L174.80,1037.65 L175.46,1037.63 L176.13,1037.60 L176.79,1037.57 L177.45,1037.54 L178.11,1037.51 L178.78,1037.48 L179.44,1037.46 L180.10,1037.43 L180.77,1037.40 L181.43,1037.38 L182.09,1037.35 L182.75,1037.33 L183.42,1037.30 L184.08,1037.28 L184.74,1037.25 L185.41,1037.23 L186.07,1037.21 L186.73,1037.18 L187.40,1037.16 L188.06,1037.14 L188.72,1037.12 L189.39,1037.10 L190.05,1037.08 L190.71,1037.06 L191.38,1037.04 L192.04,1037.02 L192.70,1037.00 L193.37,1036.98 L194.03,1036.96 L194.69,1036.94 L195.36,1036.92 L196.02,1036.90 L196.68,1036.89 L197.35,1036.87 L198.01,1036.85 L198.67,1036.83 L199.34,1036.82 L200.00,1036.80 L200.66,1036.79 L201.33,1036.77 L201.99,1036.76 L202.66,1036.74 L203.32,1036.73 L203.98,1036.71 L204.65,1036.70 L205.31,1036.68 L205.97,1036.67 L206.64,1036.66 L207.30,1036.65 L207.97,1036.63 L208.63,1036.62 L209.29,1036.61 L209.96,1036.60 L210.62,1036.59 L211.28,1036.57 L211.95,1036.56 L212.61,1036.55 L213.28,1036.54 L213.94,1036.53 L214.60,1036.52 L215.27,1036.51 L215.93,1036.50 L216.60,1036.49 L217.26,1036.48 L217.92,1036.48 L218.59,1036.47 L219.25,1036.46 L219.92,1036.45 L220.58,1036.44 L221.24,1036.44 L221.91,1036.43 L222.57,1036.42 L223.24,1036.41 L223.90,1036.41 L224.57,1036.40 L225.23,1036.39 L225.89,1036.39 L226.56,1036.38 L227.22,1036.38 L227.89,1036.37 L228.55,1036.36 L229.21,1036.36 L229.88,1036.35 L230.54,1036.35 L231.21,1036.34 L231.87,1036.34 L232.54,1036.33 L233.20,1036.33 L233.86,1036.33 L234.53,1036.32 L235.19,1036.32 L235.86,1036.32 L236.52,1036.31 L237.19,1036.31 L237.85,1036.30 L238.51,1036.30 L239.18,1036.30 L239.84,1036.30 L240.51,1036.29 L241.17,1036.29 L241.84,1036.29 L242.50,1036.29 L243.16,1036.28 L243.83,1036.28 L244.49,1036.28 L245.16,1036.28 L245.82,1036.28 L246.49,1036.27 L247.15,1036.27 L247.81,1036.27 L248.48,1036.27 L249.14,1036.27 L249.81,1036.27 L250.47,1036.27 L251.14,1036.27 L251.80,1036.26 L252.47,1036.26 L253.13,1036.26 L253.79,1036.26 L254.46,1036.26 L255.12,1036.26 L255.79,1036.26 L256.45,1036.26 L257.12,1036.26 L257.78,1036.26 L258.45,1036.26 L259.11,1036.26 L259.77,1036.26 L260.44,1036.26 L261.10,1036.26 L261.77,1036.26 L262.43,1036.26 L263.10,1036.26 L263.76,1036.26 L264.42,1036.26 L265.09,1036.26 L265.75,1036.26 L266.42,1036.26 L267.08,1036.26 L267.75,1036.26 L268.41,1036.26 L269.08,1036.26 L269.74,1036.26 L270.40,1036.26 L271.07,1036.26 L271.73,1036.26 L272.40,1036.26 L273.06,1036.26 L273.73,1036.26 L274.39,1036.26 L275.05,1036.26 L275.72,1036.26 L276.38,1036.26 L277.05,1036.26 L277.71,1036.26 L278.38,1036.26 L279.04,1036.26 L279.70,1036.25 L280.37,1036.25 L281.03,1036.25 L281.70,1036.25 L282.36,1036.25 L283.03,1036.25 L283.69,1036.25 L284.35,1036.25 L285.02,1036.25 L285.68,1036.25 L286.35,1036.25 L287.01,1036.25 L287.67,1036.25 L288.34,1036.24 L289.00,1036.24 L289.67,1036.24 L290.33,1036.24 L291.00,1036.24 L291.66,1036.24 L292.32,1036.24 L292.99,1036.23 L293.65,1036.23 L294.32,1036.23 L294.98,1036.23 L295.64,1036.22 L296.31,1036.22 L296.97,1036.22 L297.64,1036.22 L298.30,1036.21 L298.96,1036.21 L299.63,1036.21 L300.29,1036.20 L300.96,1036.20 L301.62,1036.20 L302.28,1036.19 L302.95,1036.19 L303.61,1036.19 L304.27,1036.18 L304.94,1036.18 L305.60,1036.17 L306.27,1036.17 L306.93,1036.16 L307.59,1036.16 L308.26,1036.15 L308.92,1036.15 L309.58,1036.14 L310.25,1036.14 L310.91,1036.13 L311.58,1036.12 L312.24,1036.12 L312.90,1036.11 L313.57,1036.11 L314.23,1036.10 L314.89,1036.09 L315.56,1036.08 L316.22,1036.08 L316.88,1036.07 L317.55,1036.06 L318.21,1036.05 L318.87,1036.04 L319.54,1036.04 L320.20,1036.03 L320.86,1036.02 L321.53,1036.01 L322.19,1036.00 L322.85,1035.99 L323.52,1035.98 L324.18,1035.97 L324.84,1035.96 L325.51,1035.95 L326.17,1035.94 L326.83,1035.93 L327.50,1035.91 L328.16,1035.90 L328.82,1035.89 L329.49,1035.88 L330.15,1035.87 L330.81,1035.85 L331.48,1035.84 L332.14,1035.83 L332.80,1035.81 L333.46,1035.80 L334.13,1035.78 L334.79,1035.77 L335.45,1035.75 L336.12,1035.74 L336.78,1035.72 L337.44,1035.71 L338.10,1035.69 L338.77,1035.68 L339.43,1035.66 L340.09,1035.64 L340.76,1035.62 L341.42,1035.61 L342.08,1035.59 L342.74,1035.57 L343.41,1035.55 L344.07,1035.53 L344.73,1035.51 L345.39,1035.49 L346.06,1035.47 L346.72,1035.45 L347.38,1035.43 L348.04,1035.41 L348.70,1035.39 L349.37,1035.37 L350.03,1035.35 L350.69,1035.32 L351.35,1035.30 L352.02,1035.28 L352.68,1035.25 L353.34,1035.23 L354.00,1035.21 L354.66,1035.18 L355.33,1035.16 L355.99,1035.13" stroke="#000" stroke-width="3" stroke-linecap="round" stroke-linejoin="round" fill="none" stroke-dasharray="4.0 6.620" stroke-dashoffset="4.0"/>
</svg>
</body></html>
